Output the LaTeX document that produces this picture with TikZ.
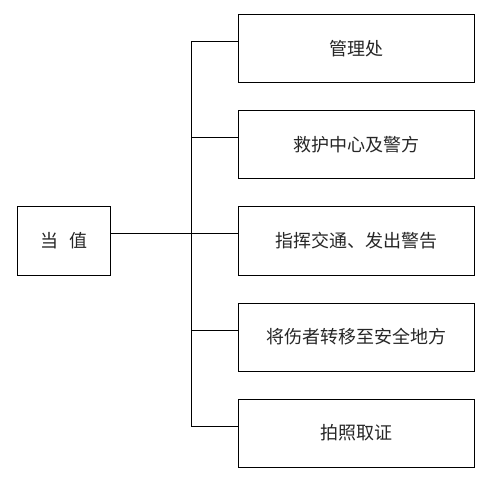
\documentclass[tikz,border=0pt]{standalone}
\usepackage{fontspec}
\newfontfamily\cjk{Noto Sans CJK SC}
\usetikzlibrary{positioning}

\begin{document}
\begin{tikzpicture}[
  x=1pt, y=-1pt,
  node distance=27pt,
  box/.style={draw, line width=1pt, minimum width=236pt, minimum height=68pt,
              inner sep=0pt, font=\cjk\fontsize{18}{18}\selectfont, text=black!85},
  duty/.style={draw, line width=1pt, minimum width=93pt, minimum height=68pt,
               inner sep=0pt, font=\cjk\fontsize{18}{18}\selectfont, text=black!85},
  link/.style={line width=1pt}]
  \useasboundingbox (0,0) rectangle (490,481);
  \node[duty] (dang) at (64,241) {当\hspace{0.6em}值};
  \node[box] (mgmt) at (356.5,49) {管理处};
  \node[box, below=of mgmt] (rescue) {救护中心及警方};
  \node[box, below=of rescue] (traffic) {指挥交通、发出警告};
  \node[box, below=of traffic] (move) {将伤者转移至安全地方};
  \node[box, below=of move] (photo) {拍照取证};
  % trunk and branches
  \draw[link] ([yshift=7pt]mgmt.west) -- ++(-47,0) coordinate (top);
  \draw[link] ([yshift=7pt]photo.west) -- ++(-47,0) coordinate (bot);
  \draw[link] (top) -- (bot);
  \draw[link] ([yshift=7pt]dang.east) -- ([yshift=7pt]traffic.west);
  \draw[link] ([yshift=7pt]rescue.west) -- ++(-47,0);
  \draw[link] ([yshift=7pt]move.west) -- ++(-47,0);
\end{tikzpicture}
\end{document}
